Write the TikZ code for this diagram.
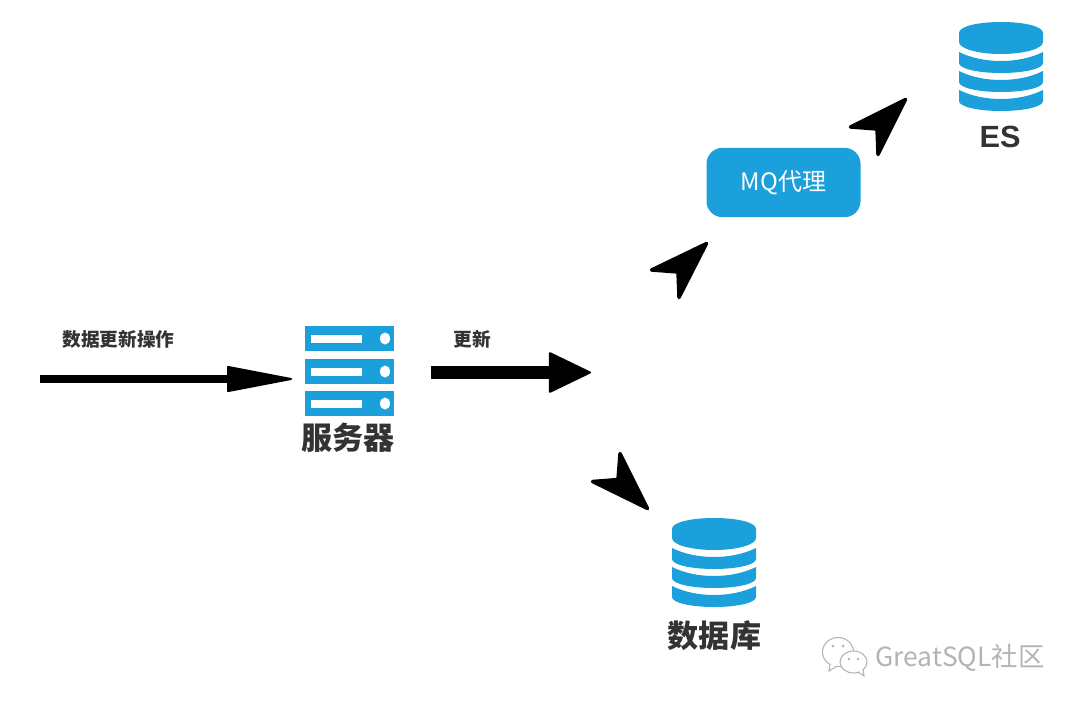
\documentclass[tikz,border=0pt]{standalone}
\usepackage{fontspec}
\setmainfont{Liberation Sans}
\newfontfamily\cjk{Noto Sans CJK SC}
\usetikzlibrary{arrows.meta}
\definecolor{iconblue}{HTML}{1BA0DB}
\definecolor{labeldark}{HTML}{333333}
\definecolor{wmgray}{HTML}{B4B4B4}
\tikzset{
  x=0.75pt,y=-0.75pt,
  iconfill/.style={fill=iconblue,draw=none},
  biglabel/.style={text=labeldark,font=\cjk\bfseries\fontsize{23.3}{26}\selectfont,inner sep=0pt},
  smalllabel/.style={text=labeldark,font=\cjk\bfseries\fontsize{14}{16}\selectfont,inner sep=0pt},
  shaftarrow/.style={line width=#1,draw=black},
  navhead/.style={draw=black,fill=black,line width=2.6pt,line join=round},
  wmbubble/.style={draw=wmgray,line width=0.8pt,fill=white},
  pics/dbicon/.style={code={
    \fill[iconfill] (-42,11) .. controls (-42,4) and (-22,0) .. (0,0)
      .. controls (22,0) and (42,4) .. (42,11) -- (42,20)
      .. controls (42,27) and (22,32) .. (0,32)
      .. controls (-22,32) and (-42,27) .. (-42,20) -- cycle;
    \foreach \d in {0,19,38}{
      \fill[iconfill] (-42,30+\d) .. controls (-30,36+\d) and (-15,39+\d) .. (0,39+\d)
        .. controls (15,39+\d) and (30,36+\d) .. (42,30+\d) -- (42,41+\d)
        .. controls (42,47+\d) and (22,51+\d) .. (0,51+\d)
        .. controls (-22,51+\d) and (-42,47+\d) .. (-42,41+\d) -- cycle;
    }
  }},
  pics/serverrow/.style={code={
    \fill[iconfill] (0,0) rectangle (89,25);
    \fill[white] (6,9) rectangle (57,17);
    \fill[white] (80,12.5) ellipse [x radius=5,y radius=6];
  }}
}
\begin{document}
\begin{tikzpicture}
\useasboundingbox (0,0) rectangle (1080,707);
\fill[white] (0,0) rectangle (1080,707);

% icons
\pic (esicon) at (1001,22) {dbicon};
\pic (dbicon) at (714,518) {dbicon};
\pic (srvA) at (305,326) {serverrow};
\pic (srvB) at (305,359) {serverrow};
\pic (srvC) at (305,391) {serverrow};

% labels
\node[biglabel] (serverlabel) at (348,438) {服务器};
\node[biglabel] (dblabel) at (714.5,636) {数据库};
\node[text=labeldark,font=\bfseries\fontsize{23}{26}\selectfont,inner sep=0pt] (eslabel) at (1000,137) {ES};
\node[smalllabel] (oplabel) at (118.5,339) {数据更新操作};
\node[smalllabel] (updlabel) at (472,339) {更新};

% MQ box
\node[fill=iconblue,rounded corners=12pt,minimum width=115.5pt,minimum height=52pt,inner sep=0pt,
      text=white,font=\cjk\fontsize{18}{20}\selectfont] (mq) at (783.5,182.5) {MQ代理};

% straight connectors
\coordinate (inA) at (40,379);
\coordinate (inB) at (292,379);
\coordinate (updA) at (431,372.5);
\coordinate (updB) at (591,372.5);
\draw[shaftarrow=6pt,-{Stealth[length=52pt,width=19.5pt,inset=0pt,round,line width=1.5pt]}] (inA) -- (inB);
\draw[shaftarrow=9.5pt,-{Stealth[length=32.5pt,width=31pt,inset=0pt,round,line width=1.5pt]}] (updA) -- (updB);

% navigation-style arrowheads
\coordinate (mqTip) at (706.5,243.5);
\coordinate (mqL) at (651.5,270);
\coordinate (mqN) at (678,272);
\coordinate (mqR) at (679,297.5);
\filldraw[navhead] (mqTip) -- (mqL) -- (mqN) -- (mqR) -- cycle;

\coordinate (esTip) at (905.5,99.5);
\coordinate (esL) at (850.5,127);
\coordinate (esN) at (877,129);
\coordinate (esR) at (878,154.5);
\filldraw[navhead] (esTip) -- (esL) -- (esN) -- (esR) -- cycle;

\coordinate (dbTip) at (647.5,508.5);
\coordinate (dbL) at (592.5,481.5);
\coordinate (dbN) at (618,479.5);
\coordinate (dbR) at (620,453.5);
\filldraw[navhead] (dbTip) -- (dbL) -- (dbN) -- (dbR) -- cycle;

% watermark
\draw[wmbubble] (838,652) ellipse [x radius=15.5,y radius=14.5];
\draw[wmbubble] (830,664) -- (829,671) -- (837,666);
\draw[wmbubble] (853.5,662) ellipse [x radius=13.5,y radius=11];
\draw[wmbubble] (858,672) -- (864,676) -- (863,669);
\fill[wmgray] (833,646) circle (1.5) (843,646) circle (1.5) (849,659) circle (1.3) (858,659) circle (1.3);
\node[inner sep=0pt,text=wmgray,font=\cjk\fontsize{19.8}{22}\selectfont] (wm) at (960,657.5) {GreatSQL社区};
\end{tikzpicture}
\end{document}
